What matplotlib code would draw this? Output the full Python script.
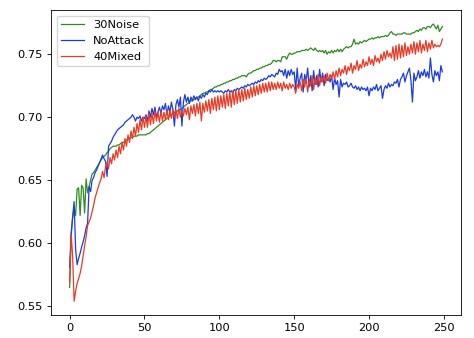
import numpy as np
import matplotlib
matplotlib.use("Agg")
import matplotlib.pyplot as plt

# Accuracy per training round, in thousandths
noise30 = [
    565, 605, 620, 628, 622, 643, 644, 622, 646, 644,
    624, 651, 640, 645, 650, 655, 656, 658, 660, 662,
    664, 666, 668, 669, 670, 672, 673, 675, 676, 677,
    677, 677, 678, 678, 679, 680, 680, 681, 682, 683,
    683, 684, 684, 685, 685, 685, 686, 686, 686, 686,
    686, 686, 687, 687, 688, 689, 690, 691, 692, 693,
    694, 695, 696, 697, 698, 699, 700, 701, 702, 703,
    704, 704, 705, 706, 706, 707, 708, 709, 710, 711,
    712, 713, 713, 714, 715, 716, 716, 717, 718, 719,
    719, 720, 720, 721, 722, 722, 723, 724, 724, 725,
    725, 726, 726, 727, 727, 728, 728, 729, 729, 730,
    730, 731, 731, 732, 732, 733, 733, 733, 732, 734,
    735, 735, 736, 737, 737, 738, 738, 739, 739, 740,
    740, 741, 741, 742, 742, 743, 745, 745, 744, 745,
    745, 744, 748, 748, 748, 746, 749, 751, 750, 750,
    751, 751, 752, 752, 752, 753, 753, 753, 754, 753,
    754, 755, 754, 753, 755, 753, 752, 753, 752, 753,
    751, 753, 750, 752, 751, 753, 751, 753, 752, 754,
    752, 754, 752, 754, 755, 756, 755, 756, 756, 758,
    762, 758, 759, 758, 760, 759, 760, 761, 760, 761,
    762, 762, 763, 762, 763, 763, 764, 763, 764, 764,
    764, 765, 764, 765, 767, 768, 766, 766, 765, 766,
    766, 766, 766, 767, 767, 766, 766, 766, 766, 767,
    767, 768, 769, 768, 770, 769, 771, 771, 770, 772,
    772, 771, 773, 774, 772, 770, 773, 768, 770, 772,
]

no_attack = [
    581, 608, 621, 633, 595, 583, 588, 592, 597, 601,
    606, 612, 616, 645, 641, 650, 652, 656, 658, 661,
    664, 667, 670, 667, 665, 653, 677, 679, 681, 684,
    686, 688, 690, 691, 692, 693, 694, 696, 697, 698,
    699, 700, 702, 700, 697, 700, 699, 701, 697, 700,
    699, 702, 697, 705, 700, 707, 702, 708, 700, 704,
    708, 703, 709, 706, 711, 702, 709, 704, 712, 706,
    693, 710, 714, 708, 716, 693, 712, 718, 712, 716,
    711, 716, 713, 717, 714, 716, 713, 717, 715, 718,
    716, 719, 718, 721, 720, 722, 720, 721, 720, 721,
    720, 721, 720, 719, 721, 720, 722, 720, 721, 719,
    722, 721, 723, 722, 723, 724, 723, 725, 724, 726,
    725, 726, 727, 726, 728, 727, 729, 728, 730, 729,
    731, 730, 731, 733, 732, 734, 733, 732, 735, 734,
    738, 736, 737, 733, 738, 731, 737, 733, 738, 734,
    736, 722, 739, 725, 731, 735, 720, 734, 729, 739,
    724, 733, 721, 737, 726, 733, 724, 738, 728, 735,
    725, 734, 729, 731, 728, 733, 722, 731, 726, 729,
    716, 730, 724, 727, 726, 728, 724, 725, 727, 724,
    723, 725, 722, 724, 721, 724, 722, 723, 721, 724,
    717, 723, 721, 724, 722, 726, 721, 723, 725, 715,
    722, 725, 723, 727, 724, 726, 725, 728, 727, 730,
    724, 730, 732, 735, 728, 733, 736, 739, 729, 712,
    735, 729, 732, 737, 731, 736, 733, 738, 732, 736,
    731, 747, 734, 728, 737, 733, 736, 729, 741, 736,
]

mixed40 = [
    569, 607, 590, 554, 562, 568, 572, 576, 582, 590,
    598, 605, 614, 617, 620, 625, 630, 636, 640, 644,
    648, 651, 657, 652, 661, 664, 659, 668, 663, 671,
    666, 674, 668, 677, 671, 680, 674, 683, 677, 686,
    680, 689, 683, 692, 685, 695, 688, 698, 690, 700,
    692, 701, 692, 703, 694, 703, 695, 705, 697, 704,
    696, 705, 697, 704, 698, 706, 698, 705, 699, 706,
    700, 706, 699, 707, 700, 705, 701, 707, 702, 708,
    698, 709, 703, 710, 701, 711, 703, 712, 697, 711,
    704, 713, 705, 714, 703, 715, 706, 716, 705, 717,
    706, 717, 708, 718, 707, 719, 709, 720, 708, 721,
    710, 721, 711, 722, 712, 722, 713, 723, 714, 722,
    715, 724, 716, 725, 717, 725, 718, 726, 719, 727,
    720, 727, 720, 728, 721, 728, 722, 727, 722, 728,
    723, 727, 721, 728, 723, 726, 722, 727, 723, 726,
    724, 719, 726, 723, 728, 721, 730, 724, 731, 720,
    729, 725, 733, 722, 731, 726, 734, 725, 732, 728,
    733, 727, 735, 729, 734, 731, 736, 730, 737, 732,
    739, 733, 738, 735, 741, 734, 740, 737, 743, 735,
    741, 738, 745, 737, 742, 739, 746, 740, 744, 741,
    748, 742, 746, 741, 749, 744, 747, 743, 750, 745,
    752, 746, 753, 748, 751, 747, 756, 745, 757, 746,
    758, 747, 757, 748, 759, 749, 756, 750, 758, 751,
    760, 750, 759, 752, 761, 751, 758, 753, 761, 752,
    759, 754, 761, 755, 758, 756, 757, 756, 758, 762,
]

series_names = ["30Noise", "NoAttack", "40Mixed"]
series_colors = ["#2f8a22", "#1a3be0", "#ea3a24"]

plt.rcParams["font.family"] = "DejaVu Sans"
plt.rcParams["font.size"] = 8.2

fig = plt.figure(figsize=(4.74, 3.38), dpi=100)
ax = fig.add_axes([0.1076, 0.068, 0.865, 0.902])

for name, vals, col in zip(series_names, [noise30, no_attack, mixed40], series_colors):
    y = np.array(vals) / 1000.0
    ax.plot(np.arange(len(y)), y, color=col, linewidth=0.9, label=name)

ax.set_yticks([0.55, 0.60, 0.65, 0.70, 0.75])
ax.set_xticks([0, 50, 100, 150, 200, 250])
ax.tick_params(length=2.6, width=0.6)
for s in ax.spines.values():
    s.set_linewidth(0.6)
ax.legend(loc="upper left", fontsize=8.2)

fig.savefig("out.png", dpi=100)
